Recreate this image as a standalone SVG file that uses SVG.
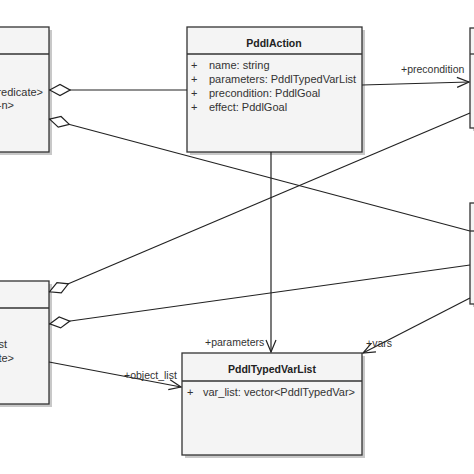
<svg xmlns="http://www.w3.org/2000/svg" width="474" height="474" viewBox="0 0 474 474">
<defs>
<style>
.box{fill:#f4f4f4;stroke:#333;stroke-width:1.3}
.shadow{fill:#c8c8c8}
.hdr{stroke:#333;stroke-width:1.3}
.t{font-family:"Liberation Sans",Arial,sans-serif;font-size:11px;fill:#333}
.title{font-family:"Liberation Sans",Arial,sans-serif;font-size:10.5px;font-weight:bold;fill:#222;text-anchor:middle}
.lbl{font-family:"Liberation Sans",Arial,sans-serif;font-size:10.5px;fill:#333}
.edge{stroke:#222;stroke-width:1.2;fill:none}
</style>
<marker id="dia" viewBox="0 0 22 14" refX="0" refY="7" markerWidth="22" markerHeight="14" markerUnits="userSpaceOnUse" orient="auto">
<path d="M0.7,7 L11,1.5 L21,7 L11,12.5 Z" fill="#fff" stroke="#222" stroke-width="1.2"/>
</marker>
<marker id="arr" viewBox="0 0 14 12" refX="13" refY="6" markerWidth="14" markerHeight="12" markerUnits="userSpaceOnUse" orient="auto">
<path d="M1,1 L13,6 L1,11" fill="none" stroke="#222" stroke-width="1.2"/>
</marker>
</defs>
<rect width="474" height="474" fill="#fff"/>

<g id="left-top">
<rect class="shadow" x="-10" y="30" width="62" height="125"/>
<rect class="box" x="-10" y="27" width="59" height="125"/>
<line class="hdr" x1="-10" y1="54" x2="49" y2="54"/>
<text class="t" x="43" y="96" text-anchor="end">redicate&gt;</text>
<text class="t" x="14" y="109" text-anchor="end">-n&gt;</text>
</g>

<g id="PddlAction">
<rect class="shadow" x="190" y="30" width="175" height="125"/>
<rect class="box" x="187" y="27" width="175" height="125"/>
<line class="hdr" x1="187" y1="54" x2="362" y2="54"/>
<text class="title" x="274" y="47">PddlAction</text>
<text class="t" x="191" y="69">+</text>
<text class="t" x="209" y="69">name: string</text>
<text class="t" x="191" y="83">+</text>
<text class="t" x="209" y="83">parameters: PddlTypedVarList</text>
<text class="t" x="191" y="97">+</text>
<text class="t" x="209" y="97">precondition: PddlGoal</text>
<text class="t" x="191" y="111">+</text>
<text class="t" x="209" y="111">effect: PddlGoal</text>
</g>

<g id="right-top">
<rect class="shadow" x="473" y="31" width="20" height="100"/>
<rect class="box" x="470" y="28" width="20" height="100"/>
<line class="hdr" x1="470" y1="54" x2="490" y2="54"/>
</g>

<g id="right-middle">
<rect class="shadow" x="473" y="206" width="20" height="101"/>
<rect class="box" x="470" y="203" width="20" height="101"/>
<line class="hdr" x1="470" y1="231" x2="490" y2="231"/>
</g>

<g id="left-bottom">
<rect class="shadow" x="-10" y="284" width="62" height="123"/>
<rect class="box" x="-10" y="281" width="59" height="123"/>
<line class="hdr" x1="-10" y1="308" x2="49" y2="308"/>
<text class="t" x="7" y="348" text-anchor="end">st</text>
<text class="t" x="14" y="362" text-anchor="end">te&gt;</text>
</g>

<g id="PddlTypedVarList">
<rect class="shadow" x="185" y="356" width="180" height="102"/>
<rect class="box" x="182" y="353" width="180" height="102"/>
<line class="hdr" x1="182" y1="381" x2="362" y2="381"/>
<text class="title" x="272" y="373">PddlTypedVarList</text>
<text class="t" x="187" y="396">+</text>
<text class="t" x="203" y="396">var_list: vector&lt;PddlTypedVar&gt;</text>
</g>

<g id="connectors">
<line class="edge" x1="49" y1="90" x2="187" y2="90" marker-start="url(#dia)"/>
<line class="edge" x1="49" y1="119" x2="470" y2="231" marker-start="url(#dia)"/>
<line class="edge" x1="49" y1="292" x2="470" y2="113" marker-start="url(#dia)"/>
<line class="edge" x1="49" y1="324" x2="470" y2="265" marker-start="url(#dia)"/>
<line class="edge" x1="362" y1="85" x2="469" y2="82" marker-end="url(#arr)"/>
<line class="edge" x1="271" y1="152" x2="271" y2="352" marker-end="url(#arr)"/>
<line class="edge" x1="470" y1="298" x2="363" y2="353" marker-end="url(#arr)"/>
<line class="edge" x1="49" y1="362" x2="181" y2="387" marker-end="url(#arr)"/>
<text class="lbl" x="401" y="73">+precondition</text>
<text class="lbl" x="205" y="346">+parameters</text>
<text class="lbl" x="366" y="347">+vars</text>
<text class="lbl" x="124" y="379">+object_list</text>
</g>
</svg>
